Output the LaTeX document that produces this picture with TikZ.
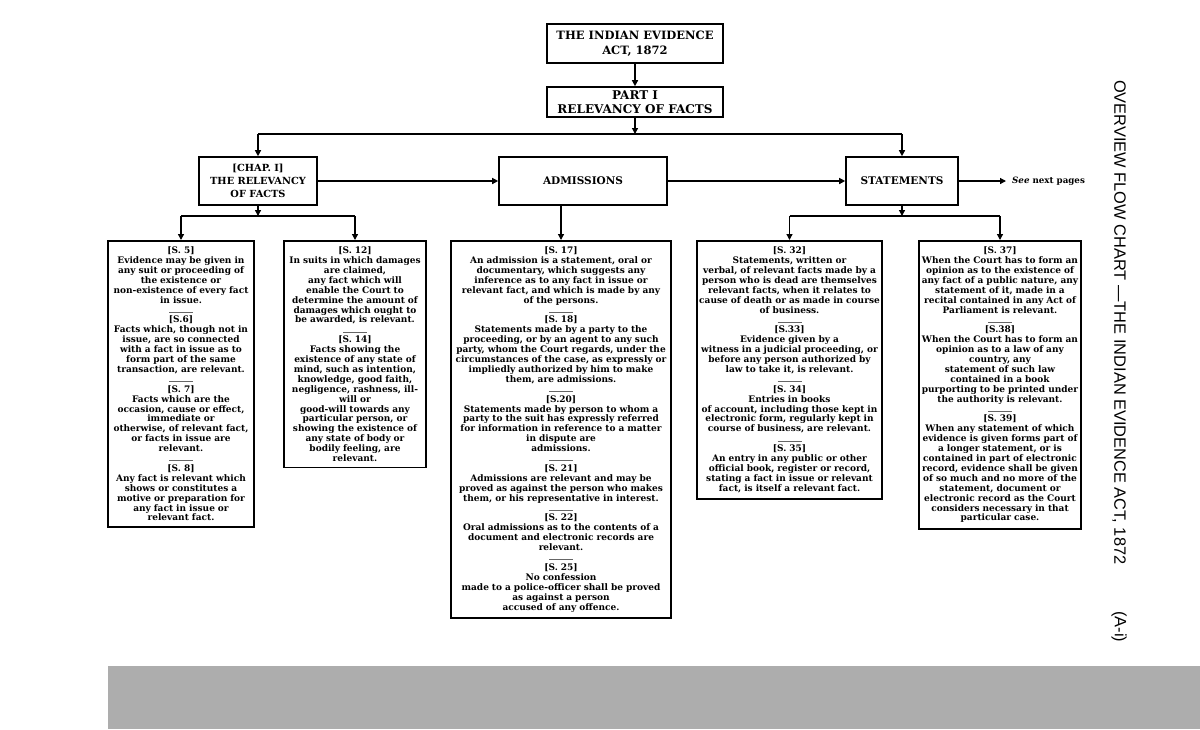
\documentclass[tikz,border=0pt]{standalone}
\usepackage{fontspec}
\setmainfont{DejaVu Serif}
\newfontfamily\sidefont{Liberation Sans}
\usetikzlibrary{arrows.meta}
\newcommand{\sepl}{\textcolor{black!60}{\rule[0.6pt]{24pt}{0.6pt}}}
\newcommand{\sh}[1]{{[#1]}}
\begin{document}
\begin{tikzpicture}[x=1pt,y=-1pt,
  headbox/.style={draw=black, line width=1.6pt, inner sep=1pt, align=center},
  secbox/.style={draw=black, line width=1.6pt, anchor=north, inner xsep=1pt, inner ysep=6pt, align=center, font=\bfseries\fontsize{9}{9.9}\selectfont},
  arr/.style={line width=1.3pt, -{Triangle[length=6pt,width=6pt]}},
  ln/.style={line width=1.3pt}]
\useasboundingbox (0,0) rectangle (1200,729);
\fill[white] (0,0) rectangle (1200,729);
\fill[black!32] (108,666) rectangle (1200,729);

% header boxes
\node[headbox, minimum width=176pt, minimum height=39pt, font=\bfseries\fontsize{11.5}{15}\selectfont] (act) at (635,43.5) {THE INDIAN EVIDENCE\\ACT, 1872};
\node[headbox, minimum width=176pt, minimum height=30pt, font=\bfseries\fontsize{12}{14.5}\selectfont] (part) at (635,102) {PART I\\RELEVANCY OF FACTS};
\node[headbox, minimum width=118pt, minimum height=48pt, font=\bfseries\fontsize{9.8}{12.8}\selectfont] (chap) at (258,181) {\sh{CHAP. I}\\THE RELEVANCY\\OF FACTS};
\node[headbox, minimum width=168pt, minimum height=48pt, font=\bfseries\fontsize{10.5}{12}\selectfont] (adm) at (583,181) {ADMISSIONS};
\node[headbox, minimum width=112pt, minimum height=48pt, font=\bfseries\fontsize{10.5}{12}\selectfont] (stat) at (902,181) {STATEMENTS};
\node[anchor=west, inner sep=0pt, font=\bfseries\fontsize{8.7}{10}\selectfont] (see) at (1012,181) {\textit{See} next pages};

% section boxes
\node[secbox, text width=144pt] (b1) at (181,240) {%
\sh{S. 5}\\Evidence may be given in\\any suit or proceeding of\\the existence or\\non-existence of every fact\\in issue.\\\sepl\\
\sh{S.6}\\Facts which, though not in\\issue, are so connected\\with a fact in issue as to\\form part of the same\\transaction, are relevant.\\\sepl\\
\sh{S. 7}\\Facts which are the\\occasion, cause or effect,\\immediate or\\otherwise, of relevant fact,\\or facts in issue are\\relevant.\\\sepl\\
\sh{S. 8}\\Any fact is relevant which\\shows or constitutes a\\motive or preparation for\\any fact in issue or\\relevant fact.};

\node[secbox, text width=140pt] (b2) at (355,240) {%
\sh{S. 12}\\In suits in which damages\\are claimed,\\any fact which will\\enable the Court to\\determine the amount of\\damages which ought to\\be awarded, is relevant.\\\sepl\\
\sh{S. 14}\\Facts showing the\\existence of any state of\\mind, such as intention,\\knowledge, good faith,\\negligence, rashness, ill-\\will or\\good-will towards any\\particular person, or\\showing the existence of\\any state of body or\\bodily feeling, are\\relevant.};

\node[secbox, text width=218pt] (b3) at (561,240) {%
\sh{S. 17}\\An admission is a statement, oral or\\documentary, which suggests any\\inference as to any fact in issue or\\relevant fact, and which is made by any\\of the persons.\\\sepl\\
\sh{S. 18}\\Statements made by a party to the\\proceeding, or by an agent to any such\\party, whom the Court regards, under the\\circumstances of the case, as expressly or\\impliedly authorized by him to make\\them, are admissions.\\\sepl\\
\sh{S.20}\\Statements made by person to whom a\\party to the suit has expressly referred\\for information in reference to a matter\\in dispute are\\admissions.\\\sepl\\
\sh{S. 21}\\Admissions are relevant and may be\\proved as against the person who makes\\them, or his representative in interest.\\\sepl\\
\sh{S. 22}\\Oral admissions as to the contents of a\\document and electronic records are\\relevant.\\\sepl\\
\sh{S. 25}\\No confession\\made to a police-officer shall be proved\\as against a person\\accused of any offence.};

\node[secbox, text width=183pt] (b4) at (789.5,240) {%
\sh{S. 32}\\Statements, written or\\verbal, of relevant facts made by a\\person who is dead are themselves\\relevant facts, when it relates to\\cause of death or as made in course\\of business.\\\sepl\\
\sh{S.33}\\Evidence given by a\\witness in a judicial proceeding, or\\before any person authorized by\\law to take it, is relevant.\\\sepl\\
\sh{S. 34}\\Entries in books\\of account, including those kept in\\electronic form, regularly kept in\\course of business, are relevant.\\\sepl\\
\sh{S. 35}\\An entry in any public or other\\official book, register or record,\\stating a fact in issue or relevant\\fact, is itself a relevant fact.};

\node[secbox, text width=160pt] (b5) at (1000,240) {%
\sh{S. 37}\\When the Court has to form an\\opinion as to the existence of\\any fact of a public nature, any\\statement of it, made in a\\recital contained in any Act of\\Parliament is relevant.\\\sepl\\
\sh{S.38}\\When the Court has to form an\\opinion as to a law of any\\country, any\\statement of such law\\contained in a book\\purporting to be printed under\\the authority is relevant.\\\sepl\\
\sh{S. 39}\\When any statement of which\\evidence is given forms part of\\a longer statement, or is\\contained in part of electronic\\record, evidence shall be given\\of so much and no more of the\\statement, document or\\electronic record as the Court\\considers necessary in that\\particular case.};

% side title
\node[rotate=-90, anchor=west, inner sep=0pt, font=\sidefont\fontsize{16.4}{20}\selectfont] (side) at (1119,80) {OVERVIEW FLOW CHART —THE INDIAN EVIDENCE ACT, 1872};
\node[rotate=-90, anchor=west, inner sep=0pt, font=\sidefont\fontsize{16.4}{20}\selectfont] (page) at (1119,611) {(A-i)};

% connectors
\coordinate (j0) at (635,134);
\coordinate (jl) at (chap.north |- j0);
\coordinate (jr) at (stat.north |- j0);
\draw[arr] (act.south) -- (part.north);
\draw[arr] (part.south) -- (j0);
\draw[ln] (jl) -- (jr);
\draw[arr] (jl) -- (chap.north);
\draw[arr] (jr) -- (stat.north);
\draw[arr] (chap.east) -- (adm.west);
\draw[arr] (adm.east) -- (stat.west);
\draw[arr] (stat.east) -- ([xshift=-6pt]see.west);

\coordinate (c0) at (258,216);
\draw[arr] (chap.south) -- (c0);
\draw[ln] (b1.north |- c0) -- (b2.north |- c0);
\draw[arr] (b1.north |- c0) -- (b1.north);
\draw[arr] (b2.north |- c0) -- (b2.north);

\draw[arr] (b3.north |- adm.south) -- (b3.north);

\coordinate (s0) at (902,216);
\draw[arr] (stat.south) -- (s0);
\draw[ln] (b4.north |- s0) -- (b5.north |- s0);
\draw[arr] (b4.north |- s0) -- (b4.north);
\draw[arr] (b5.north |- s0) -- (b5.north);
\end{tikzpicture}
\end{document}
